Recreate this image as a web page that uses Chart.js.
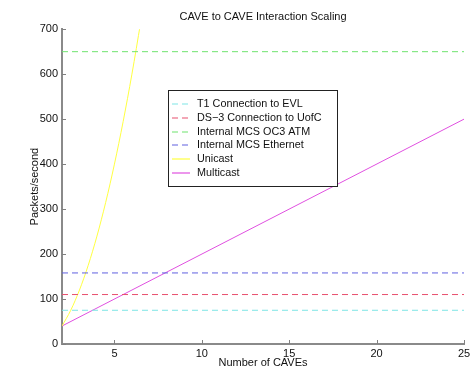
<!DOCTYPE html>
<html>
<head>
<meta charset="utf-8">
<script src="https://cdn.jsdelivr.net/npm/chart.js@4/dist/chart.umd.min.js"></script>
<style>
  html, body { margin: 0; padding: 0; background: #fff; }
  #wrap { width: 474px; height: 371px; position: relative; }
</style>
</head>
<body>
<div id="wrap"><canvas id="c" width="474" height="371"></canvas></div>
<script>
// ---- data ----
const xRange = [2, 25];
const t1Values = [75, 75];
const ds3Values = [110, 110];
const oc3Values = [650, 650];
const ethernetValues = [158, 158];
const unicastX = [2, 2.5, 3, 3.5, 4, 4.5, 5, 5.5, 6, 6.5];
const unicastY = [40, 75, 120, 175, 240, 315, 400, 495, 600, 715];
const multicastX = [2, 25];
const multicastY = [40, 500];
const xTicks = [5, 10, 15, 20, 25];
const yTicks = [0, 100, 200, 300, 400, 500, 600, 700];
const seriesLabels = ['T1 Connection to EVL', 'DS\u22123 Connection to UofC', 'Internal MCS OC3 ATM', 'Internal MCS Ethernet', 'Unicast', 'Multicast'];
const seriesColors = ['#7ee6e6', '#e8506e', '#6ee46e', '#6060e0', '#ffff40', '#e050e0'];

const FONT = "'Liberation Sans', Arial, Helvetica, sans-serif";
const pts = (xs, ys) => xs.map((x, i) => ({x: x, y: ys[i]}));
const dash = [6, 4];

const datasets = [
  {label: seriesLabels[0], data: pts(xRange, t1Values), borderColor: seriesColors[0], borderDash: dash},
  {label: seriesLabels[1], data: pts(xRange, ds3Values), borderColor: seriesColors[1], borderDash: dash},
  {label: seriesLabels[2], data: pts(xRange, oc3Values), borderColor: seriesColors[2], borderDash: dash},
  {label: seriesLabels[3], data: pts(xRange, ethernetValues), borderColor: seriesColors[3], borderDash: dash},
  {label: seriesLabels[4], data: pts(unicastX, unicastY), borderColor: seriesColors[4], cubicInterpolationMode: 'monotone'},
  {label: seriesLabels[5], data: pts(multicastX, multicastY), borderColor: seriesColors[5]}
].map(d => Object.assign({borderWidth: 1, pointRadius: 0, fill: false}, d));

const centerTitle = {
  id: 'centerTitle',
  afterLayout(chart) {
    const tb = chart.titleBlock, a = chart.chartArea;
    if (tb) { tb.left = a.left; tb.right = a.right; }
  }
};

const inwardTicks = {
  id: 'inwardTicks',
  afterDatasetsDraw(chart) {
    const ctx = chart.ctx, a = chart.chartArea;
    const xs = chart.scales.x, ys = chart.scales.y;
    ctx.save();
    ctx.strokeStyle = '#808080';
    ctx.lineWidth = 1;
    xs.ticks.forEach(t => {
      const px = Math.round(xs.getPixelForValue(t.value)) + 0.5;
      ctx.beginPath(); ctx.moveTo(px, a.bottom); ctx.lineTo(px, a.bottom - 4); ctx.stroke();
    });
    ys.ticks.forEach(t => {
      const py = Math.round(ys.getPixelForValue(t.value)) + 0.5;
      ctx.beginPath(); ctx.moveTo(a.left, py); ctx.lineTo(a.left + 4, py); ctx.stroke();
    });
    ctx.restore();
  }
};

const boxLegend = {
  id: 'boxLegend',
  afterDraw(chart) {
    const ctx = chart.ctx;
    const bx = 168.5, by = 90.5, bw = 169, bh = 96;
    ctx.save();
    ctx.fillStyle = '#ffffff';
    ctx.fillRect(bx, by, bw, bh);
    ctx.strokeStyle = '#222222';
    ctx.lineWidth = 1;
    ctx.strokeRect(bx, by, bw, bh);
    ctx.font = '10.8px ' + FONT;
    ctx.textBaseline = 'middle';
    ctx.textAlign = 'left';
    chart.data.datasets.forEach((d, i) => {
      const y = 104 + i * 13.8;
      ctx.save();
      ctx.strokeStyle = seriesColors[i];
      ctx.lineWidth = 1.2;
      ctx.setLineDash(d.borderDash || []);
      ctx.beginPath(); ctx.moveTo(172, Math.round(y)); ctx.lineTo(190, Math.round(y)); ctx.stroke();
      ctx.restore();
      ctx.fillStyle = '#111111';
      ctx.fillText(d.label, 197, y);
    });
    ctx.restore();
  }
};

new Chart(document.getElementById('c'), {
  type: 'line',
  data: {datasets: datasets},
  plugins: [centerTitle, inwardTicks, boxLegend],
  options: {
    responsive: false,
    animation: false,
    events: [],
    layout: {padding: {left: 0, right: 10, top: 0, bottom: 0}},
    plugins: {
      legend: {display: false},
      tooltip: {enabled: false},
      title: {
        display: true,
        text: 'CAVE to CAVE Interaction Scaling',
        color: '#111',
        font: {family: FONT, size: 11, weight: 'normal'},
        padding: {top: 10, bottom: 6}
      }
    },
    scales: {
      x: {
        type: 'linear',
        min: xRange[0], max: xRange[1],
        afterBuildTicks: s => { s.ticks = xTicks.map(v => ({value: v})); },
        afterFit: s => { s.height = 27; },
        grid: {drawOnChartArea: false, drawTicks: false},
        border: {display: true, color: '#8a8a8a', width: 2},
        ticks: {color: '#111', font: {family: FONT, size: 11}, padding: 3, maxRotation: 0},
        title: {display: true, text: 'Number of CAVEs', color: '#111', font: {family: FONT, size: 11}, padding: {top: 0, bottom: 1}}
      },
      y: {
        type: 'linear',
        min: 0, max: 700,
        afterBuildTicks: s => { s.ticks = yTicks.map(v => ({value: v})); },
        afterFit: s => { s.width = 62; },
        grid: {drawOnChartArea: false, drawTicks: false},
        border: {display: true, color: '#8a8a8a', width: 2},
        ticks: {color: '#111', font: {family: FONT, size: 11}, padding: 4},
        title: {display: true, text: 'Packets/second', color: '#111', font: {family: FONT, size: 11}, padding: {top: 28, bottom: 0}}
      }
    }
  }
});
</script>
</body>
</html>
